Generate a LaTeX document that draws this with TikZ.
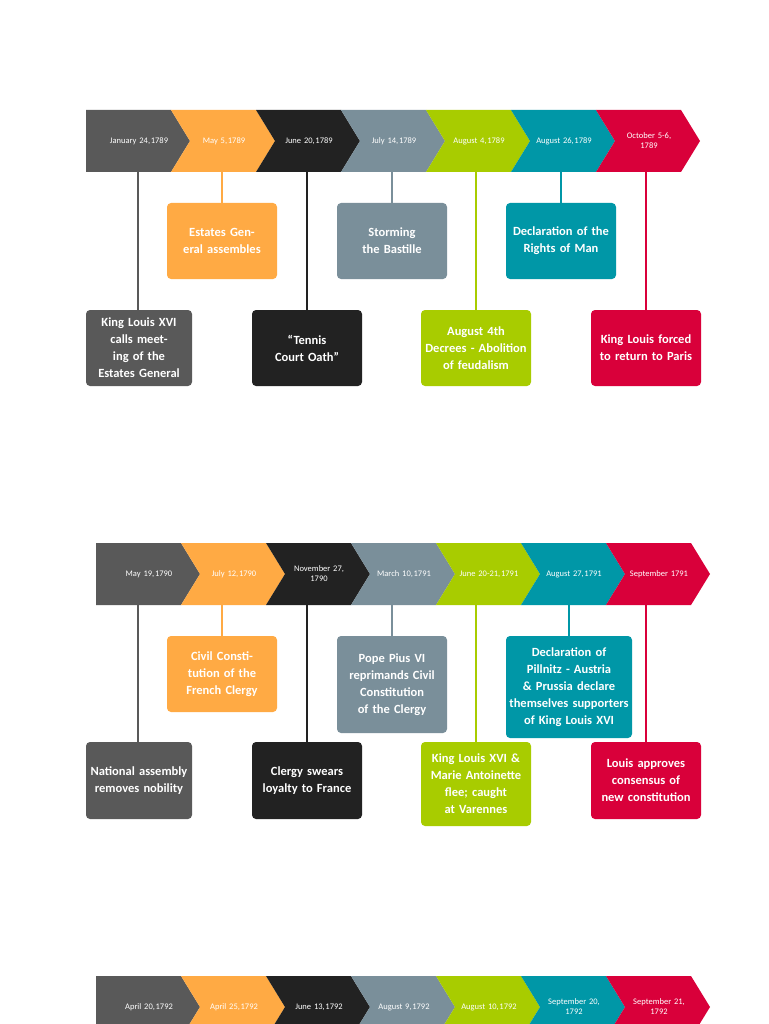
\documentclass[tikz,border=0pt]{standalone}
\usepackage{fontspec}
\setmainfont{Carlito}
\definecolor{cA}{HTML}{595959}
\definecolor{cB}{HTML}{FFAA44}
\definecolor{cC}{HTML}{222222}
\definecolor{cD}{HTML}{7A8F9A}
\definecolor{cE}{HTML}{A8CC00}
\definecolor{cF}{HTML}{0097A7}
\definecolor{cG}{HTML}{D9003A}
\begin{document}
\begin{tikzpicture}[x=1pt,y=-1pt,
  datel/.style={text=white,font=\fontsize{8.5}{10}\selectfont,align=center,text width=70pt},
  ebox/.style={text=white,font=\bfseries\fontsize{12.5}{17}\selectfont,align=center,inner sep=2pt},
  stem/.style={line width=2.5pt}]
\useasboundingbox (0,0) rectangle (768,1024);
\fill[white] (0,0) rectangle (768,1024);
\newcommand\band[4]{%
  \foreach \d [count=\i from 0] in {#4}{
    \pgfmathsetmacro\xa{#1+85*\i}
    \pgfmathsetmacro\xb{#1+85*(\i+1)}
    \pgfmathsetmacro\col{{"cA","cB","cC","cD","cE","cF","cG"}[\i]}
    \ifnum\i=0
      \fill[\col] (\xa,#2) -- (\xb,#2) -- (\xb+19,#2+31) -- (\xb,#2+62) -- (\xa,#2+62) -- cycle;
    \else
      \fill[\col] (\xa,#2) -- (\xb,#2) -- (\xb+19,#2+31) -- (\xb,#2+62) -- (\xa,#2+62) -- (\xa+19,#2+31) -- cycle;
    \fi
    \node[datel] (d#3\i) at (\xa+53,#2+31) {\d};
  }}
\band{86}{110}{a}{January 24\rlap{,} 1789,May 5\rlap{,} 1789,June 20\rlap{,} 1789,July 14\rlap{,} 1789,August 4\rlap{,} 1789,August 26\rlap{,} 1789,{October 5-6,\\1789}}
\band{96}{543}{b}{May 19\rlap{,} 1790,July 12\rlap{,} 1790,{November 27,\\1790},March 10\rlap{,} 1791,June 20-21\rlap{,} 1791,August 27\rlap{,} 1791,September 1791}
\band{96}{976}{c}{April 20\rlap{,} 1792,April 25\rlap{,} 1792,June 13\rlap{,} 1792,August 9\rlap{,} 1792,August 10\rlap{,} 1792,{September 20,\\1792},{September 21,\\1792}}
% #1 name, #2 color, #3-#6 box, #7 stem x, #8 band bottom y, #9 text
\newcommand\ev[9]{%
  \coordinate (#1s) at (#7,#8);
  \coordinate (#1t) at (#7,#4+2);
  \draw[stem,#2] (#1s) -- (#1t);
  \fill[#2,rounded corners=4pt] (#3,#4) rectangle (#5,#6);
  \node[ebox,text width=#5pt-#3pt-6pt] (#1) at ({(#3+#5)/2},{(#4+#6)/2}) {#9};}
\ev{a0}{cA}{86}{310}{192}{386}{138}{172}{King Louis XVI calls meeting of the Estates General}
\ev{a1}{cB}{167}{203}{277}{279}{222}{172}{Estates General assembles}
\ev{a2}{cC}{252}{310}{362}{386}{307}{172}{“Tennis Court Oath”}
\ev{a3}{cD}{337}{203}{447}{279}{392}{172}{Storming the Bastille}
\ev{a4}{cE}{421}{310}{531}{386}{476}{172}{August 4th Decrees - Abolition of feudalism}
\ev{a5}{cF}{506}{203}{616}{279}{561}{172}{Declaration of the Rights of Man}
\ev{a6}{cG}{591}{310}{701}{386}{646}{172}{King Louis forced to return to Paris}
\ev{b0}{cA}{86}{742}{192}{819}{138}{605}{National assembly removes nobility}
\ev{b1}{cB}{167}{636}{277}{712}{222}{605}{Civil Constitution of the French Clergy}
\ev{b2}{cC}{252}{742}{362}{819}{307}{605}{Clergy swears loyalty to France}
\ev{b3}{cD}{337}{636}{447}{733}{392}{605}{Pope Pius VI reprimands Civil Constitution of the Clergy}
\ev{b4}{cE}{421}{742}{531}{826}{476}{605}{King Louis XVI \& Marie Antoinette flee; caught at Varennes}
\ev{b5}{cF}{506}{636}{632}{738}{569}{605}{Declaration of Pillnitz - Austria \& Prussia declare themselves supporters of King Louis XVI}
\ev{b6}{cG}{591}{742}{701}{819}{646}{605}{Louis approves consensus of new constitution}
\end{tikzpicture}
\end{document}
